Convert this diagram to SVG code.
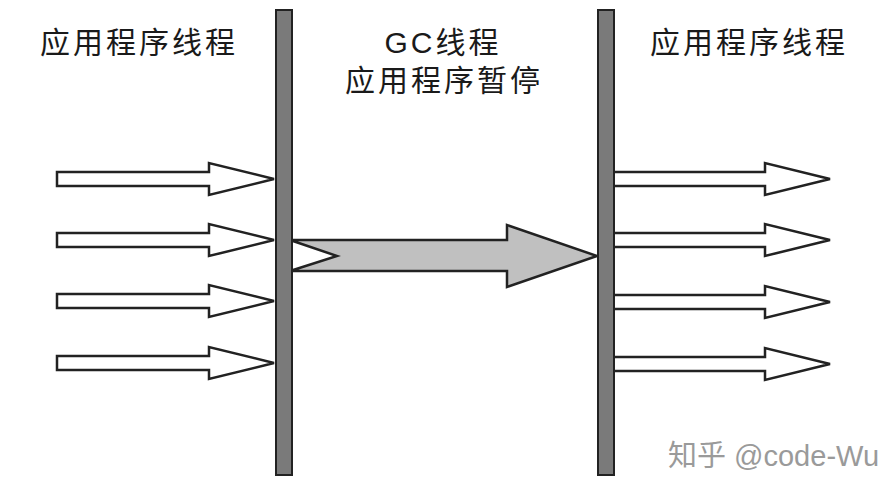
<svg xmlns="http://www.w3.org/2000/svg" width="887" height="491" viewBox="0 0 887 491">
<style>
.t{font-family:"Liberation Sans","Noto Sans CJK SC",sans-serif;font-size:30px;letter-spacing:3px;fill:#1a1a1a}
.bar{fill:#7a7a7a;stroke:#222;stroke-width:2}
.a{fill:#fff;stroke:#222;stroke-width:2.5;stroke-linejoin:miter}
.g{fill:#c0c0c0;stroke:#222;stroke-width:2.5}
</style>
<defs>
<polygon id="arr" class="a" points="0,-7 152,-7 152,-16 217,0 152,16 152,7 0,7"/>
</defs>
<rect width="887" height="491" fill="#fff"/>
<g id="labels">
<text class="t" x="40" y="53">应用程序线程</text>
<text class="t" x="443" y="53" text-anchor="middle">GC线程</text>
<text class="t" x="444" y="91" text-anchor="middle">应用程序暂停</text>
<text class="t" x="650" y="53">应用程序线程</text>
</g>
<g id="connectors">
<use href="#arr" x="57" y="179"/>
<use href="#arr" x="57" y="240"/>
<use href="#arr" x="57" y="301"/>
<use href="#arr" x="57" y="363"/>
<use href="#arr" x="613" y="179"/>
<use href="#arr" x="613" y="240"/>
<use href="#arr" x="613" y="302"/>
<use href="#arr" x="613" y="364"/>
<polygon class="g" points="290,240 507,240 507,225 597,256 507,287 507,271 290,271 337,256"/>
</g>
<g id="bar-left"><rect class="bar" x="276" y="10" width="16" height="465"/></g>
<g id="bar-right"><rect class="bar" x="598" y="10" width="16" height="465"/></g>
<g id="watermark"><text x="668" y="466" style="font-family:'Liberation Sans','Noto Sans CJK SC',sans-serif;font-size:29px;fill:#9a9a9a">知乎 @code-Wu</text></g>
</svg>
